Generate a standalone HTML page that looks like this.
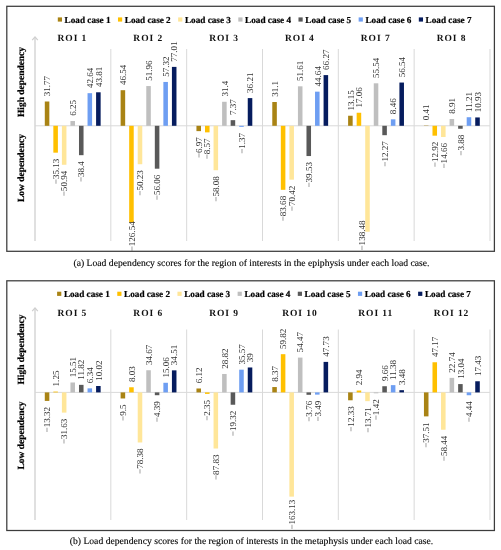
<!DOCTYPE html>
<html><head><meta charset="utf-8"><style>
html,body{margin:0;padding:0;background:#fff;width:501px;height:550px;overflow:hidden}
svg{display:block;filter:grayscale(0.001)}
text{font-family:"Liberation Serif",serif;text-rendering:geometricPrecision}
.lg{font-size:9.2px;font-weight:bold;fill:#000;stroke:#000;stroke-width:0.2px}
.tt{font-size:9.5px;font-weight:bold;fill:#111;letter-spacing:0.95px}
.ax{font-size:9.45px;font-weight:bold;fill:#000;stroke:#000;stroke-width:0.2px}
.lb{font-size:9.05px;fill:#333333}
.cp{font-size:9.67px;fill:#000;stroke:#000;stroke-width:0.12px}
</style></head><body>
<svg width="501" height="550" viewBox="0 0 501 550">
<rect width="501" height="550" fill="#fff"/>
<rect x="6.8" y="6.3" width="487.60" height="245.00" fill="none" stroke="#3c3c3c" stroke-width="1.25"/>
<rect x="57.80" y="17.40" width="4.2" height="4.2" fill="#A98314"/>
<text x="64.60" y="22.6" class="lg">Load case 1</text>
<rect x="117.97" y="17.40" width="4.2" height="4.2" fill="#FFC000"/>
<text x="124.77" y="22.6" class="lg">Load case 2</text>
<rect x="178.14" y="17.40" width="4.2" height="4.2" fill="#FFE699"/>
<text x="184.94" y="22.6" class="lg">Load case 3</text>
<rect x="238.31" y="17.40" width="4.2" height="4.2" fill="#BFBFBF"/>
<text x="245.11" y="22.6" class="lg">Load case 4</text>
<rect x="298.48" y="17.40" width="4.2" height="4.2" fill="#595959"/>
<text x="305.28" y="22.6" class="lg">Load case 5</text>
<rect x="358.65" y="17.40" width="4.2" height="4.2" fill="#6E9EF2"/>
<text x="365.45" y="22.6" class="lg">Load case 6</text>
<rect x="418.82" y="17.40" width="4.2" height="4.2" fill="#061C5E"/>
<text x="425.62" y="22.6" class="lg">Load case 7</text>
<line x1="110.83" y1="49" x2="110.83" y2="241" stroke="#D9D9D9" stroke-width="1"/>
<line x1="186.66" y1="49" x2="186.66" y2="241" stroke="#D9D9D9" stroke-width="1"/>
<line x1="262.49" y1="49" x2="262.49" y2="241" stroke="#D9D9D9" stroke-width="1"/>
<line x1="338.32" y1="49" x2="338.32" y2="241" stroke="#D9D9D9" stroke-width="1"/>
<line x1="414.15" y1="49" x2="414.15" y2="241" stroke="#D9D9D9" stroke-width="1"/>
<line x1="489.98" y1="49" x2="489.98" y2="241" stroke="#D9D9D9" stroke-width="1"/>
<line x1="35.0" y1="125.80" x2="489.98" y2="125.80" stroke="#D9D9D9" stroke-width="1"/>
<line x1="35.0" y1="37.099999999999994" x2="35.0" y2="241" stroke="#D6D6D6" stroke-width="1.5"/>
<polyline points="32.2,40.099999999999994 35.0,36.9 37.8,40.099999999999994" fill="none" stroke="#CFCFCF" stroke-width="1.3" stroke-linejoin="miter"/>
<text transform="translate(24,82) rotate(-90)" class="ax" text-anchor="middle">High dependency</text>
<text transform="translate(24,168) rotate(-90)" class="ax" text-anchor="middle">Low dependency</text>
<text x="72.41" y="40.9" class="tt" text-anchor="middle">ROI 1</text>
<rect x="44.79" y="101.50" width="4.55" height="24.30" fill="#A98314"/>
<text transform="translate(50.26,96.30) rotate(-90)" class="lb" text-anchor="start">31.77</text>
<rect x="53.34" y="125.80" width="4.55" height="26.87" fill="#FFC000"/>
<text transform="translate(58.81,158.67) rotate(-90)" class="lb" text-anchor="end">−35.13</text>
<rect x="61.89" y="125.80" width="4.55" height="38.97" fill="#FFE699"/>
<text transform="translate(67.36,170.77) rotate(-90)" class="lb" text-anchor="end">−50.94</text>
<rect x="70.44" y="121.02" width="4.55" height="4.78" fill="#BFBFBF"/>
<text transform="translate(75.91,115.82) rotate(-90)" class="lb" text-anchor="start">6.25</text>
<rect x="78.99" y="125.80" width="4.55" height="29.38" fill="#595959"/>
<text transform="translate(84.46,161.18) rotate(-90)" class="lb" text-anchor="end">−38.4</text>
<rect x="87.54" y="93.18" width="4.55" height="32.62" fill="#6E9EF2"/>
<text transform="translate(93.01,87.98) rotate(-90)" class="lb" text-anchor="start">42.64</text>
<rect x="96.09" y="92.29" width="4.55" height="33.51" fill="#061C5E"/>
<text transform="translate(101.56,87.09) rotate(-90)" class="lb" text-anchor="start">43.81</text>
<text x="148.25" y="40.9" class="tt" text-anchor="middle">ROI 2</text>
<rect x="120.62" y="90.20" width="4.55" height="35.60" fill="#A98314"/>
<text transform="translate(126.09,85.00) rotate(-90)" class="lb" text-anchor="start">46.54</text>
<rect x="129.17" y="125.80" width="4.55" height="96.80" fill="#FFC000"/>
<text transform="translate(135.45,251.30) rotate(-90)" class="lb" text-anchor="start">−126.54</text>
<rect x="137.72" y="125.80" width="4.55" height="38.43" fill="#FFE699"/>
<text transform="translate(143.19,170.23) rotate(-90)" class="lb" text-anchor="end">−50.23</text>
<rect x="146.27" y="86.05" width="4.55" height="39.75" fill="#BFBFBF"/>
<text transform="translate(151.75,80.85) rotate(-90)" class="lb" text-anchor="start">51.96</text>
<rect x="154.82" y="125.80" width="4.55" height="42.89" fill="#595959"/>
<text transform="translate(160.30,174.69) rotate(-90)" class="lb" text-anchor="end">−56.06</text>
<rect x="163.37" y="81.95" width="4.55" height="43.85" fill="#6E9EF2"/>
<text transform="translate(168.84,76.75) rotate(-90)" class="lb" text-anchor="start">57.32</text>
<rect x="171.92" y="66.89" width="4.55" height="58.91" fill="#061C5E"/>
<text transform="translate(177.40,61.69) rotate(-90)" class="lb" text-anchor="start">77.01</text>
<text x="224.07" y="40.9" class="tt" text-anchor="middle">ROI 3</text>
<rect x="196.45" y="125.80" width="4.55" height="5.33" fill="#A98314"/>
<text transform="translate(201.92,137.13) rotate(-90)" class="lb" text-anchor="end">−6.97</text>
<rect x="205.00" y="125.80" width="4.55" height="6.56" fill="#FFC000"/>
<text transform="translate(210.47,138.36) rotate(-90)" class="lb" text-anchor="end">−8.57</text>
<rect x="213.55" y="125.80" width="4.55" height="44.43" fill="#FFE699"/>
<text transform="translate(219.02,176.23) rotate(-90)" class="lb" text-anchor="end">−58.08</text>
<rect x="222.10" y="101.78" width="4.55" height="24.02" fill="#BFBFBF"/>
<text transform="translate(227.57,96.58) rotate(-90)" class="lb" text-anchor="start">31.4</text>
<rect x="230.65" y="120.16" width="4.55" height="5.64" fill="#595959"/>
<text transform="translate(236.12,114.96) rotate(-90)" class="lb" text-anchor="start">7.37</text>
<rect x="239.20" y="125.80" width="4.55" height="1.05" fill="#6E9EF2"/>
<text transform="translate(244.67,132.85) rotate(-90)" class="lb" text-anchor="end">−1.37</text>
<rect x="247.75" y="98.10" width="4.55" height="27.70" fill="#061C5E"/>
<text transform="translate(253.22,92.90) rotate(-90)" class="lb" text-anchor="start">36.21</text>
<text x="299.91" y="40.9" class="tt" text-anchor="middle">ROI 4</text>
<rect x="272.28" y="102.01" width="4.55" height="23.79" fill="#A98314"/>
<text transform="translate(277.76,96.81) rotate(-90)" class="lb" text-anchor="start">31.1</text>
<rect x="280.83" y="125.80" width="4.55" height="64.02" fill="#FFC000"/>
<text transform="translate(286.31,195.82) rotate(-90)" class="lb" text-anchor="end">−83.68</text>
<rect x="289.38" y="125.80" width="4.55" height="53.87" fill="#FFE699"/>
<text transform="translate(294.86,185.67) rotate(-90)" class="lb" text-anchor="end">−70.42</text>
<rect x="297.93" y="86.32" width="4.55" height="39.48" fill="#BFBFBF"/>
<text transform="translate(303.41,81.12) rotate(-90)" class="lb" text-anchor="start">51.61</text>
<rect x="306.48" y="125.80" width="4.55" height="30.24" fill="#595959"/>
<text transform="translate(311.96,162.04) rotate(-90)" class="lb" text-anchor="end">−39.53</text>
<rect x="315.03" y="91.65" width="4.55" height="34.15" fill="#6E9EF2"/>
<text transform="translate(320.51,86.45) rotate(-90)" class="lb" text-anchor="start">44.64</text>
<rect x="323.58" y="75.10" width="4.55" height="50.70" fill="#061C5E"/>
<text transform="translate(329.06,69.90) rotate(-90)" class="lb" text-anchor="start">66.27</text>
<text x="375.74" y="40.9" class="tt" text-anchor="middle">ROI 7</text>
<rect x="348.11" y="115.74" width="4.55" height="10.06" fill="#A98314"/>
<text transform="translate(353.59,110.54) rotate(-90)" class="lb" text-anchor="start">13.15</text>
<rect x="356.66" y="112.75" width="4.55" height="13.05" fill="#FFC000"/>
<text transform="translate(362.13,107.55) rotate(-90)" class="lb" text-anchor="start">17.06</text>
<rect x="365.21" y="125.80" width="4.55" height="105.94" fill="#FFE699"/>
<text transform="translate(364.69,250.50) rotate(-90)" class="lb" text-anchor="start">−138.48</text>
<rect x="373.76" y="83.31" width="4.55" height="42.49" fill="#BFBFBF"/>
<text transform="translate(379.24,78.11) rotate(-90)" class="lb" text-anchor="start">55.54</text>
<rect x="382.31" y="125.80" width="4.55" height="9.39" fill="#595959"/>
<text transform="translate(387.79,141.19) rotate(-90)" class="lb" text-anchor="end">−12.27</text>
<rect x="390.86" y="119.33" width="4.55" height="6.47" fill="#6E9EF2"/>
<text transform="translate(396.34,114.13) rotate(-90)" class="lb" text-anchor="start">8.46</text>
<rect x="399.41" y="82.55" width="4.55" height="43.25" fill="#061C5E"/>
<text transform="translate(404.88,77.35) rotate(-90)" class="lb" text-anchor="start">56.54</text>
<text x="451.56" y="40.9" class="tt" text-anchor="middle">ROI 8</text>
<rect x="423.94" y="125.49" width="4.55" height="0.31" fill="#A98314"/>
<text transform="translate(429.42,120.29) rotate(-90)" class="lb" text-anchor="start">0.41</text>
<rect x="432.49" y="125.80" width="4.55" height="9.88" fill="#FFC000"/>
<text transform="translate(437.96,141.68) rotate(-90)" class="lb" text-anchor="end">−12.92</text>
<rect x="441.04" y="125.80" width="4.55" height="11.21" fill="#FFE699"/>
<text transform="translate(446.51,143.01) rotate(-90)" class="lb" text-anchor="end">−14.66</text>
<rect x="449.59" y="118.98" width="4.55" height="6.82" fill="#BFBFBF"/>
<text transform="translate(455.06,113.78) rotate(-90)" class="lb" text-anchor="start">8.91</text>
<rect x="458.14" y="125.80" width="4.55" height="2.97" fill="#595959"/>
<text transform="translate(463.62,134.77) rotate(-90)" class="lb" text-anchor="end">−3.88</text>
<rect x="466.69" y="117.22" width="4.55" height="8.58" fill="#6E9EF2"/>
<text transform="translate(472.17,112.02) rotate(-90)" class="lb" text-anchor="start">11.21</text>
<rect x="475.24" y="117.44" width="4.55" height="8.36" fill="#061C5E"/>
<text transform="translate(480.71,112.24) rotate(-90)" class="lb" text-anchor="start">10.93</text>
<rect x="6.8" y="280.8" width="487.60" height="249.70" fill="none" stroke="#3c3c3c" stroke-width="1.25"/>
<rect x="57.10" y="291.70" width="4.2" height="4.2" fill="#A98314"/>
<text x="63.90" y="296.9" class="lg">Load case 1</text>
<rect x="117.27" y="291.70" width="4.2" height="4.2" fill="#FFC000"/>
<text x="124.07" y="296.9" class="lg">Load case 2</text>
<rect x="177.44" y="291.70" width="4.2" height="4.2" fill="#FFE699"/>
<text x="184.24" y="296.9" class="lg">Load case 3</text>
<rect x="237.61" y="291.70" width="4.2" height="4.2" fill="#BFBFBF"/>
<text x="244.41" y="296.9" class="lg">Load case 4</text>
<rect x="297.78" y="291.70" width="4.2" height="4.2" fill="#595959"/>
<text x="304.58" y="296.9" class="lg">Load case 5</text>
<rect x="357.95" y="291.70" width="4.2" height="4.2" fill="#6E9EF2"/>
<text x="364.75" y="296.9" class="lg">Load case 6</text>
<rect x="418.12" y="291.70" width="4.2" height="4.2" fill="#061C5E"/>
<text x="424.92" y="296.9" class="lg">Load case 7</text>
<line x1="110.83" y1="329.5" x2="110.83" y2="520" stroke="#D9D9D9" stroke-width="1"/>
<line x1="186.66" y1="329.5" x2="186.66" y2="520" stroke="#D9D9D9" stroke-width="1"/>
<line x1="262.49" y1="329.5" x2="262.49" y2="520" stroke="#D9D9D9" stroke-width="1"/>
<line x1="338.32" y1="329.5" x2="338.32" y2="520" stroke="#D9D9D9" stroke-width="1"/>
<line x1="414.15" y1="329.5" x2="414.15" y2="520" stroke="#D9D9D9" stroke-width="1"/>
<line x1="489.98" y1="329.5" x2="489.98" y2="520" stroke="#D9D9D9" stroke-width="1"/>
<line x1="35.0" y1="392.40" x2="489.98" y2="392.40" stroke="#D9D9D9" stroke-width="1"/>
<line x1="35.0" y1="308.1" x2="35.0" y2="520" stroke="#D6D6D6" stroke-width="1.5"/>
<polyline points="32.2,311.1 35.0,307.90000000000003 37.8,311.1" fill="none" stroke="#CFCFCF" stroke-width="1.3" stroke-linejoin="miter"/>
<text transform="translate(24,349.5) rotate(-90)" class="ax" text-anchor="middle">High dependency</text>
<text transform="translate(24,435.5) rotate(-90)" class="ax" text-anchor="middle">Low dependency</text>
<text x="72.41" y="315.8" class="tt" text-anchor="middle">ROI 5</text>
<rect x="44.79" y="392.40" width="4.55" height="8.51" fill="#A98314"/>
<text transform="translate(50.26,406.91) rotate(-90)" class="lb" text-anchor="end">−13.32</text>
<rect x="53.34" y="391.60" width="4.55" height="0.80" fill="#FFC000"/>
<text transform="translate(58.81,386.40) rotate(-90)" class="lb" text-anchor="start">1.25</text>
<rect x="61.89" y="392.40" width="4.55" height="20.21" fill="#FFE699"/>
<text transform="translate(67.36,418.61) rotate(-90)" class="lb" text-anchor="end">−31.63</text>
<rect x="70.44" y="382.49" width="4.55" height="9.91" fill="#BFBFBF"/>
<text transform="translate(75.91,377.29) rotate(-90)" class="lb" text-anchor="start">15.51</text>
<rect x="78.99" y="384.85" width="4.55" height="7.55" fill="#595959"/>
<text transform="translate(84.46,379.65) rotate(-90)" class="lb" text-anchor="start">11.82</text>
<rect x="87.54" y="388.35" width="4.55" height="4.05" fill="#6E9EF2"/>
<text transform="translate(93.01,383.15) rotate(-90)" class="lb" text-anchor="start">6.34</text>
<rect x="96.09" y="386.00" width="4.55" height="6.40" fill="#061C5E"/>
<text transform="translate(101.56,380.80) rotate(-90)" class="lb" text-anchor="start">10.02</text>
<text x="148.25" y="315.8" class="tt" text-anchor="middle">ROI 6</text>
<rect x="120.62" y="392.40" width="4.55" height="6.07" fill="#A98314"/>
<text transform="translate(126.09,404.47) rotate(-90)" class="lb" text-anchor="end">−9.5</text>
<rect x="129.17" y="387.27" width="4.55" height="5.13" fill="#FFC000"/>
<text transform="translate(134.65,382.07) rotate(-90)" class="lb" text-anchor="start">8.03</text>
<rect x="137.72" y="392.40" width="4.55" height="50.08" fill="#FFE699"/>
<text transform="translate(143.19,448.48) rotate(-90)" class="lb" text-anchor="end">−78.38</text>
<rect x="146.27" y="370.25" width="4.55" height="22.15" fill="#BFBFBF"/>
<text transform="translate(151.75,365.05) rotate(-90)" class="lb" text-anchor="start">34.67</text>
<rect x="154.82" y="392.40" width="4.55" height="2.81" fill="#595959"/>
<text transform="translate(160.30,401.21) rotate(-90)" class="lb" text-anchor="end">−4.39</text>
<rect x="163.37" y="382.78" width="4.55" height="9.62" fill="#6E9EF2"/>
<text transform="translate(168.84,377.58) rotate(-90)" class="lb" text-anchor="start">15.06</text>
<rect x="171.92" y="370.35" width="4.55" height="22.05" fill="#061C5E"/>
<text transform="translate(177.40,365.15) rotate(-90)" class="lb" text-anchor="start">34.51</text>
<text x="224.07" y="315.8" class="tt" text-anchor="middle">ROI 9</text>
<rect x="196.45" y="388.49" width="4.55" height="3.91" fill="#A98314"/>
<text transform="translate(201.92,383.29) rotate(-90)" class="lb" text-anchor="start">6.12</text>
<rect x="205.00" y="392.40" width="4.55" height="1.50" fill="#FFC000"/>
<text transform="translate(210.47,399.90) rotate(-90)" class="lb" text-anchor="end">−2.35</text>
<rect x="213.55" y="392.40" width="4.55" height="56.12" fill="#FFE699"/>
<text transform="translate(219.02,454.52) rotate(-90)" class="lb" text-anchor="end">−87.83</text>
<rect x="222.10" y="373.98" width="4.55" height="18.42" fill="#BFBFBF"/>
<text transform="translate(227.57,368.78) rotate(-90)" class="lb" text-anchor="start">28.82</text>
<rect x="230.65" y="392.40" width="4.55" height="12.35" fill="#595959"/>
<text transform="translate(236.12,410.75) rotate(-90)" class="lb" text-anchor="end">−19.32</text>
<rect x="239.20" y="369.67" width="4.55" height="22.73" fill="#6E9EF2"/>
<text transform="translate(244.67,364.47) rotate(-90)" class="lb" text-anchor="start">35.57</text>
<rect x="247.75" y="367.48" width="4.55" height="24.92" fill="#061C5E"/>
<text transform="translate(253.22,362.28) rotate(-90)" class="lb" text-anchor="start">39</text>
<text x="299.91" y="315.8" class="tt" text-anchor="middle">ROI 10</text>
<rect x="272.28" y="387.05" width="4.55" height="5.35" fill="#A98314"/>
<text transform="translate(277.76,381.85) rotate(-90)" class="lb" text-anchor="start">8.37</text>
<rect x="280.83" y="354.18" width="4.55" height="38.22" fill="#FFC000"/>
<text transform="translate(286.31,348.98) rotate(-90)" class="lb" text-anchor="start">59.82</text>
<rect x="289.38" y="392.40" width="4.55" height="104.24" fill="#FFE699"/>
<text transform="translate(295.36,529.60) rotate(-90)" class="lb" text-anchor="start">−163.13</text>
<rect x="297.93" y="357.59" width="4.55" height="34.81" fill="#BFBFBF"/>
<text transform="translate(303.41,352.39) rotate(-90)" class="lb" text-anchor="start">54.47</text>
<rect x="306.48" y="392.40" width="4.55" height="2.40" fill="#595959"/>
<text transform="translate(311.96,400.80) rotate(-90)" class="lb" text-anchor="end">−3.76</text>
<rect x="315.03" y="392.40" width="4.55" height="2.23" fill="#6E9EF2"/>
<text transform="translate(320.51,400.63) rotate(-90)" class="lb" text-anchor="end">−3.49</text>
<rect x="323.58" y="361.90" width="4.55" height="30.50" fill="#061C5E"/>
<text transform="translate(329.06,356.70) rotate(-90)" class="lb" text-anchor="start">47.73</text>
<text x="375.74" y="315.8" class="tt" text-anchor="middle">ROI 11</text>
<rect x="348.11" y="392.40" width="4.55" height="7.88" fill="#A98314"/>
<text transform="translate(353.59,406.28) rotate(-90)" class="lb" text-anchor="end">−12.33</text>
<rect x="356.66" y="390.52" width="4.55" height="1.88" fill="#FFC000"/>
<text transform="translate(362.13,385.32) rotate(-90)" class="lb" text-anchor="start">2.94</text>
<rect x="365.21" y="392.40" width="4.55" height="8.76" fill="#FFE699"/>
<text transform="translate(370.69,407.16) rotate(-90)" class="lb" text-anchor="end">−13.71</text>
<rect x="373.76" y="392.40" width="4.55" height="0.91" fill="#BFBFBF"/>
<text transform="translate(379.24,399.31) rotate(-90)" class="lb" text-anchor="end">−1.42</text>
<rect x="382.31" y="386.23" width="4.55" height="6.17" fill="#595959"/>
<text transform="translate(387.79,381.03) rotate(-90)" class="lb" text-anchor="start">9.66</text>
<rect x="390.86" y="385.13" width="4.55" height="7.27" fill="#6E9EF2"/>
<text transform="translate(396.34,379.93) rotate(-90)" class="lb" text-anchor="start">11.38</text>
<rect x="399.41" y="390.18" width="4.55" height="2.22" fill="#061C5E"/>
<text transform="translate(404.88,384.98) rotate(-90)" class="lb" text-anchor="start">3.48</text>
<text x="451.56" y="315.8" class="tt" text-anchor="middle">ROI 12</text>
<rect x="423.94" y="392.40" width="4.55" height="23.97" fill="#A98314"/>
<text transform="translate(429.42,422.37) rotate(-90)" class="lb" text-anchor="end">−37.51</text>
<rect x="432.49" y="362.26" width="4.55" height="30.14" fill="#FFC000"/>
<text transform="translate(437.96,357.06) rotate(-90)" class="lb" text-anchor="start">47.17</text>
<rect x="441.04" y="392.40" width="4.55" height="37.34" fill="#FFE699"/>
<text transform="translate(446.51,435.74) rotate(-90)" class="lb" text-anchor="end">−58.44</text>
<rect x="449.59" y="377.87" width="4.55" height="14.53" fill="#BFBFBF"/>
<text transform="translate(455.06,372.67) rotate(-90)" class="lb" text-anchor="start">22.74</text>
<rect x="458.14" y="384.07" width="4.55" height="8.33" fill="#595959"/>
<text transform="translate(463.62,378.87) rotate(-90)" class="lb" text-anchor="start">13.04</text>
<rect x="466.69" y="392.40" width="4.55" height="2.84" fill="#6E9EF2"/>
<text transform="translate(472.17,401.24) rotate(-90)" class="lb" text-anchor="end">−4.44</text>
<rect x="475.24" y="381.26" width="4.55" height="11.14" fill="#061C5E"/>
<text transform="translate(480.71,376.06) rotate(-90)" class="lb" text-anchor="start">17.43</text>
<text x="251.5" y="266.0" class="cp" text-anchor="middle">(a) Load dependency scores for the region of interests in the epiphysis under each load case.</text>
<text x="251.5" y="543.8" class="cp" text-anchor="middle">(b) Load dependency scores for the region of interests in the metaphysis under each load case.</text>
</svg></body></html>
